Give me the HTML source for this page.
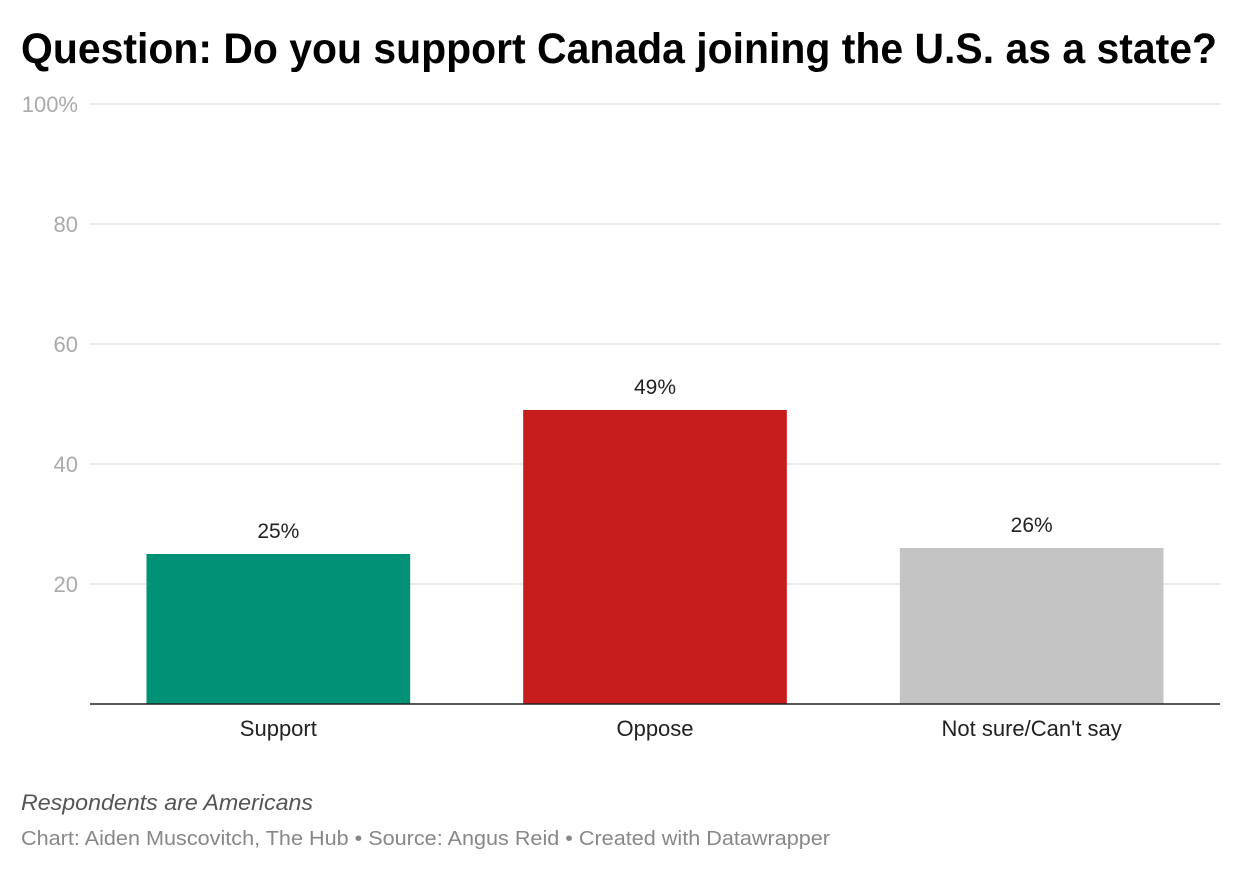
<!DOCTYPE html>
<html><head><meta charset="utf-8"><style>
body{margin:0;background:#fff;font-family:"Liberation Sans",sans-serif}
</style></head><body>
<svg id="c" width="1240" height="872" xmlns="http://www.w3.org/2000/svg">
<text x="21" y="63" font-size="43" font-weight="bold" fill="#000" textLength="1196" lengthAdjust="spacingAndGlyphs">Question: Do you support Canada joining the U.S. as a state?</text>
<g id="grid"></g><g id="bars"></g>
<text x="21" y="810" font-size="22" font-style="italic" fill="#555" textLength="292" lengthAdjust="spacingAndGlyphs">Respondents are Americans</text>
<text x="21" y="845" font-size="20" fill="#888" textLength="809" lengthAdjust="spacingAndGlyphs">Chart: Aiden Muscovitch, The Hub • Source: Angus Reid • Created with Datawrapper</text>
</svg>
<script>
const categories=["Support","Oppose","Not sure/Can't say"];
const values=[25,49,26];
const colors=["#009176","#c71e1d","#c4c4c4"];
const ticks=[20,40,60,80,100];
const tickLabels=["20","40","60","80","100%"];
const NS="http://www.w3.org/2000/svg";
const x0=90,x1=1220,yTop=104,yBase=704;
const y=v=>yBase-(v/100)*(yBase-yTop);
const band=(x1-x0)/categories.length;
function mk(t,a,txt){const e=document.createElementNS(NS,t);for(const k in a)e.setAttribute(k,a[k]);if(txt)e.textContent=txt;return e;}
const g=document.getElementById('grid'),b=document.getElementById('bars');
ticks.forEach((t,i)=>{
 const l=mk('line',{x1:x0,x2:x1,y1:y(t),y2:y(t),stroke:'#e3e3e3','stroke-width':1.5});
 
 
 g.appendChild(l);
 const tx=mk('text',{x:78,y:y(t)+8,'text-anchor':'end','font-size':22,fill:'#aaa'},tickLabels[i]);
 
 
 g.appendChild(tx);
});
categories.forEach((c,i)=>{
 const cx=x0+band*(i+0.5),w=band*0.7;
 const r=mk('rect',{x:cx-w/2,y:y(values[i]),width:w,height:yBase-y(values[i]),fill:colors[i]});
 
 
 b.appendChild(r);
 const v=mk('text',{x:cx,y:y(values[i])-16,'text-anchor':'middle','font-size':21,fill:'#222'},values[i]+'%');
 
 
 b.appendChild(v);
 const cl=mk('text',{x:cx,y:736,'text-anchor':'middle','font-size':22,fill:'#222'},c);
 
 
 b.appendChild(cl);
});
const ax=mk('line',{x1:x0,x2:x1,y1:yBase,y2:yBase,stroke:'#222','stroke-width':1.5});


b.appendChild(ax);
</script>
</body></html>
